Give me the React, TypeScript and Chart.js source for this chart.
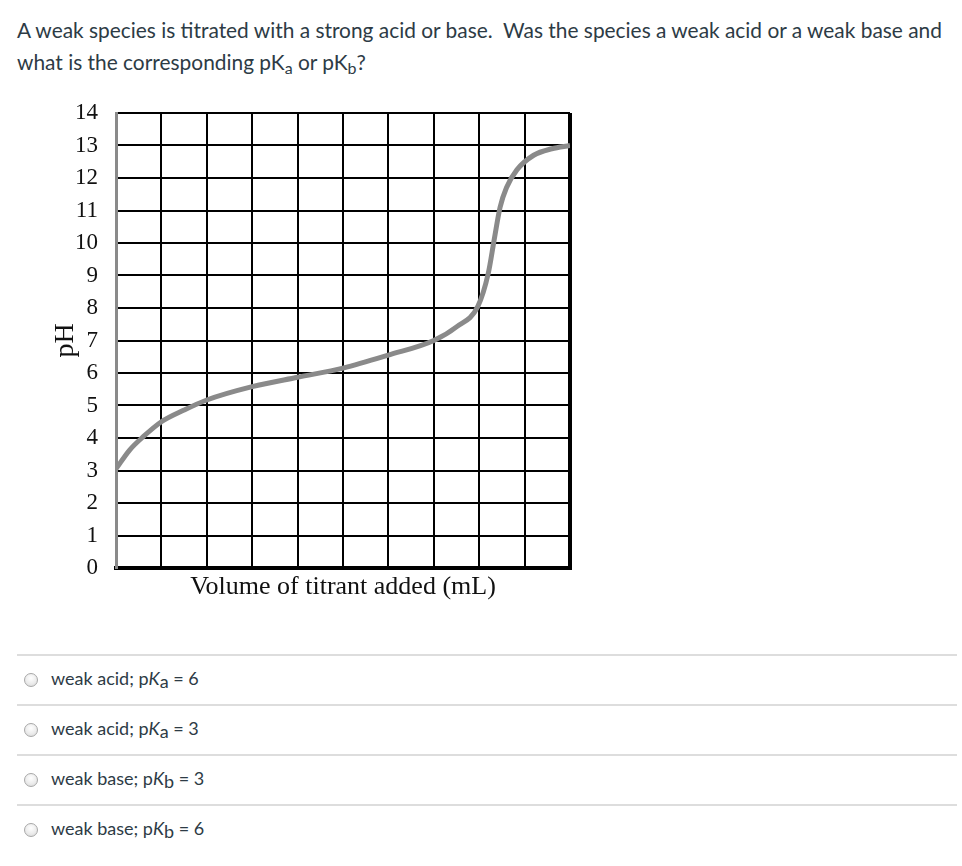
import React, { useEffect, useRef } from "react";
import { Chart, registerables } from "chart.js";

Chart.register(...registerables);

// Titration curve
const volumeML = [0, 0.3, 0.6, 1, 1.5, 2, 3, 4, 5, 6, 7, 7.5, 7.97, 8.2, 8.33, 8.46, 8.6, 8.83, 9.2, 9.6, 10];
const pHValues = [3.05, 3.63, 4.04, 4.5, 4.86, 5.17, 5.58, 5.87, 6.15, 6.55, 7.0, 7.42, 8.05, 9.07, 10.1, 11.1, 11.7, 12.25, 12.7, 12.9, 13.0];

const xMin = 0;
const xMax = 10;
const yMin = 0;
const yMax = 14;

const xAxisTitle = "Volume of titrant added (mL)";
const yAxisTitle = "pH";

const answerOptions = [
  { kind: "weak acid", sub: "a", value: "6" },
  { kind: "weak acid", sub: "a", value: "3" },
  { kind: "weak base", sub: "b", value: "3" },
  { kind: "weak base", sub: "b", value: "6" },
];

const TEXT = "#2d3b45";
const SERIF = '"Liberation Serif", "Times New Roman", serif';
const LATO = 'Lato, "Noto Sans", sans-serif';

function TitrationChart() {
  const ref = useRef<HTMLCanvasElement>(null);
  useEffect(() => {
    if (!ref.current) return;
    const chart = new Chart(ref.current, {
      type: "line",
      data: {
        datasets: [
          {
            data: volumeML.map((v, i) => ({ x: v, y: pHValues[i] })),
            borderColor: "#8a8a8a",
            borderWidth: 5,
            pointRadius: 0,
            cubicInterpolationMode: "monotone",
            fill: false,
          },
        ],
      },
      options: {
        responsive: false,
        animation: false,
        layout: { padding: { top: 13, right: 10, left: 0, bottom: 0 } },
        plugins: { legend: { display: false }, tooltip: { enabled: false } },
        scales: {
          x: {
            type: "linear",
            min: xMin,
            max: xMax,
            ticks: { display: false, stepSize: 1 },
            grid: {
              drawTicks: false,
              color: (c: any) => (c.index === 0 ? "#8a8a8a" : "#000"),
              lineWidth: (c: any) => (c.tick && c.tick.value === xMax ? 4 : c.index === 0 ? 3 : 2),
            },
            border: { display: true, color: "#000", width: 4 },
            title: {
              display: true,
              text: xAxisTitle,
              color: "#111",
              font: { family: SERIF, size: 26 },
              padding: { top: 0, bottom: 7 },
            },
            afterFit: (s: any) => {
              s.height = 42;
              s.paddingLeft = 0;
              s.paddingRight = 0;
            },
          },
          y: {
            min: yMin,
            max: yMax,
            ticks: {
              stepSize: 1,
              autoSkip: false,
              padding: 18,
              color: "#111",
              font: { family: SERIF, size: 23 },
            },
            grid: { drawTicks: false, color: "#000", lineWidth: 2 },
            border: { display: true, color: "#8a8a8a", width: 3 },
            title: {
              display: true,
              text: yAxisTitle,
              color: "#111",
              font: { family: SERIF, size: 28 },
              padding: { top: 9, bottom: 0 },
            },
            afterFit: (s: any) => {
              s.width = 76;
              s.paddingTop = 0;
              s.paddingBottom = 0;
            },
          },
        },
      },
    });
    return () => chart.destroy();
  }, []);
  return (
    <canvas
      ref={ref}
      width={540}
      height={510}
      style={{ position: "absolute", left: 40, top: 100, width: 540, height: 510 }}
    />
  );
}

function Sub({ children, drop }: { children: React.ReactNode; drop: number }) {
  return <span style={{ position: "relative", top: drop }}>{children}</span>;
}

export default function App() {
  return (
    <div
      style={{
        position: "absolute",
        left: 0,
        top: 0,
        width: 962,
        height: 866,
        background: "#fff",
        fontFamily: LATO,
        color: TEXT,
      }}
    >
      <div
        style={{
          position: "absolute",
          left: 17,
          top: 14,
          fontSize: 20.9,
          lineHeight: "32px",
          whiteSpace: "nowrap",
        }}
      >
        <div>A weak species is titrated with a strong acid or base.&nbsp; Was the species a weak acid or a weak base and</div>
        <div>
          what is the corresponding pK<Sub drop={4}><span style={{ fontSize: 16 }}>a</span></Sub> or pK
          <Sub drop={4}><span style={{ fontSize: 16 }}>b</span></Sub>?
        </div>
      </div>

      <TitrationChart />

      {answerOptions.map((o, i) => (
        <div key={i}>
          <div
            style={{
              position: "absolute",
              left: 17,
              top: 654 + i * 50,
              width: 940,
              height: 2,
              background: "#dddddd",
            }}
          />
          <div
            style={{
              position: "absolute",
              left: 24,
              top: 673 + i * 50,
              width: 14,
              height: 14,
              borderRadius: "50%",
              border: "1px solid #a8a8a8",
              background: "radial-gradient(circle at 50% 35%, #ffffff 0%, #ececec 55%, #d6d6d6 100%)",
              boxSizing: "border-box",
            }}
          />
          <div
            style={{
              position: "absolute",
              left: 51,
              top: 667.5 + i * 50,
              fontSize: 18,
              lineHeight: "20px",
              whiteSpace: "nowrap",
            }}
          >
            {o.kind}; p<i>K</i>
            <Sub drop={3}>{o.sub}</Sub> = {o.value}
          </div>
        </div>
      ))}
    </div>
  );
}
